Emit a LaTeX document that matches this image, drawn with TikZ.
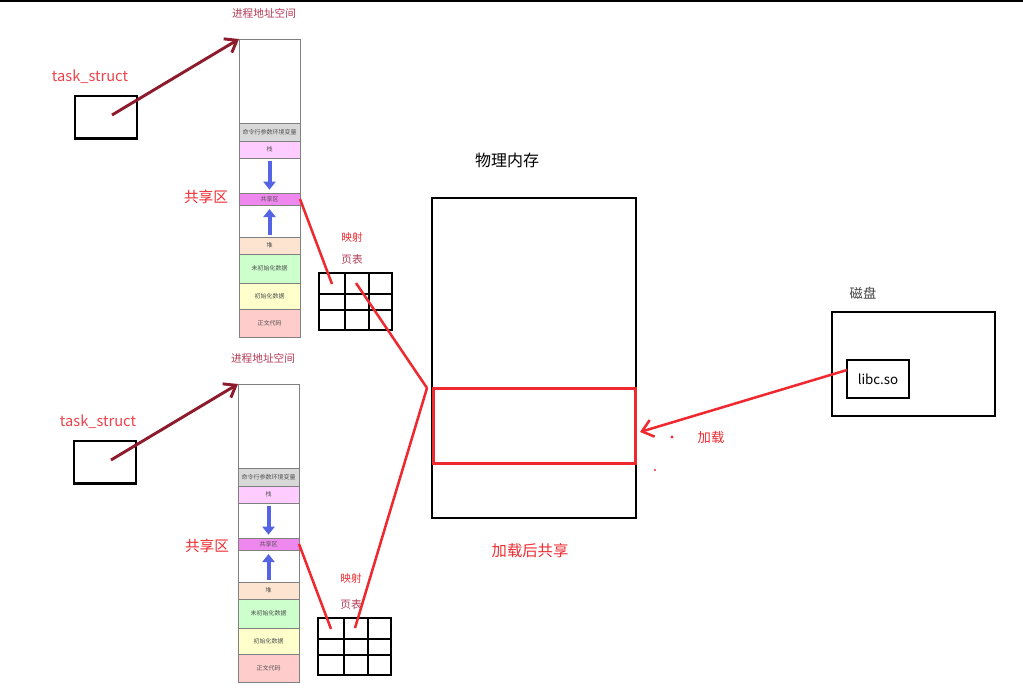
\documentclass[tikz,border=0pt]{standalone}
\usepackage{fontspec}
\setmainfont{Noto Sans CJK SC}
\usetikzlibrary{arrows.meta}
\definecolor{cgray}{HTML}{D8D8D8}
\definecolor{cpink}{HTML}{FFCCFF}
\definecolor{cmag}{HTML}{EE88EE}
\definecolor{cpeach}{HTML}{FCE4D0}
\definecolor{cgreen}{HTML}{CCFFCC}
\definecolor{cyellow}{HTML}{FFFFCC}
\definecolor{cred}{HTML}{FFCCCC}
\definecolor{segtext}{HTML}{505050}
\definecolor{segline}{HTML}{808080}
\definecolor{darkred}{HTML}{8E1B2B}
\definecolor{titlered}{HTML}{B23A55}
\definecolor{lred}{HTML}{EE2A30}
\definecolor{txtred}{HTML}{F0414B}
\definecolor{bluearrow}{HTML}{5464E4}
\newcommand\segbox[5]{\node[seg, fill=#1, minimum height=#2*0.75pt] (#3) at (239,#4) {#5};}
\begin{document}
\begin{tikzpicture}[x=0.75pt,y=-0.75pt,
  seg/.style={draw=segline, line width=0.6pt, minimum width=45.75pt, anchor=north west,
    inner sep=0pt, outer sep=0pt, font=\fontsize{4.5}{5}\selectfont, text=segtext},
  blk/.style={draw=black, line width=2.2pt},
  boxnode/.style={blk, anchor=north west, inner sep=0pt, outer sep=0pt},
  redln/.style={draw=lred, line width=1.9pt},
  darkarrow/.style={draw=darkred, line width=2.2pt, -{Straight Barb[length=8pt,width=12pt,line width=2.2pt]}},
  loadarrow/.style={draw=lred, line width=1.9pt, -{Straight Barb[length=8pt,width=13pt,line width=1.9pt]}},
  bluearr/.style={draw=bluearrow, line width=3pt, -{Triangle[length=6pt,width=9pt]}},
  lbl/.style={inner sep=0pt},
]
\useasboundingbox (0,0) rectangle (1023,690);
\draw[black, line width=1.5pt] (0,1) -- (1023,1);

\coordinate (hub) at (427,388);

\foreach \i/\dx/\dy/\tx/\ty/\gx/\gy/\my in {0/0/0/90/77/206/197/237, 1/-1/345/98/422/207/546/233} {
  \node[lbl, text=txtred, font=\fontsize{11}{13}\selectfont] (tsl\i) at (\tx,\ty) {task\_struct};
  \node[lbl, text=lred, font=\fontsize{11}{13}\selectfont] (shl\i) at (\gx,\gy) {共享区};
  \begin{scope}[shift={(\dx,\dy)}]
    \node[lbl, text=titlered, font=\fontsize{8}{9}\selectfont] (ttl\i) at (264,13) {进程地址空间};
    \segbox{white}{84}{top\i}{39}{}
    \segbox{cgray}{18}{cmd\i}{123}{命令行参数环境变量}
    \segbox{cpink}{17}{stk\i}{141}{栈}
    \segbox{white}{35}{gapa\i}{158}{}
    \segbox{cmag}{12}{shr\i}{193}{共享区}
    \segbox{white}{32}{gapb\i}{205}{}
    \segbox{cpeach}{17}{heap\i}{237}{堆}
    \segbox{cgreen}{29}{bss\i}{254}{未初始化数据}
    \segbox{cyellow}{26}{data\i}{283}{初始化数据}
    \segbox{cred}{28}{code\i}{309}{正文代码}
    \draw[bluearr] ([yshift=-2.5pt]gapa\i.north) -- ([yshift=2.5pt]gapa\i.south);
    \draw[bluearr] ([yshift=1.5pt]gapb\i.south) -- ([yshift=-3pt]gapb\i.north);
    % task_struct box
    \node[boxnode, minimum width=46.5pt, minimum height=32pt] (tsb\i) at (75,96) {};
    \coordinate (ta\i) at (112,115);
    \draw[darkarrow] (ta\i) -- (top\i.north west);
    % page table
    \node[lbl, text=lred, font=\fontsize{8}{9}\selectfont] (ys\i) at (352,\my) {映射};
    \node[lbl, text=titlered, font=\fontsize{8}{9}\selectfont] (yb\i) at (352,259) {页表};
    \node[boxnode, minimum width=54.75pt, minimum height=42.75pt] (pt\i) at (319,273) {};
    \draw[blk] (345,273) -- (345,330) (369,273) -- (369,330)
               (319,294) -- (392,294) (319,310) -- (392,310);
    \coordinate (pa\i) at (332,284);
    \coordinate (pb\i) at (356,283);
  \end{scope}
  \draw[redln] (shr\i.east) -- (pa\i);
  \draw[redln] (hub) -- (pb\i);
}

% physical memory
\node[lbl, font=\fontsize{12}{14}\selectfont] (pml) at (507,160) {物理内存};
\node[boxnode, minimum width=153pt, minimum height=240pt] (pm) at (432,198) {};
\node[draw=lred, line width=1.9pt, anchor=north west, inner sep=0pt, minimum width=151.5pt, minimum height=56.25pt] (shared) at (432,387) {};
\node[lbl, text=lred, font=\fontsize{11.5}{13}\selectfont] (after) at (530,551) {加载后共享};

% disk
\node[lbl, text=black!75, font=\fontsize{10}{12}\selectfont] (dkl) at (863,293) {磁盘};
\node[boxnode, minimum width=122.25pt, minimum height=78pt] (disk) at (832,312) {};
\node[boxnode, minimum width=46.5pt, minimum height=28.5pt, font=\fontsize{10}{12}\selectfont] (libc) at (847,360) {libc.so};
\coordinate (lstart) at (847,370);
\coordinate (lend) at (640,432);
\draw[loadarrow] (lstart) -- (lend);
\node[lbl, text=lred, font=\fontsize{10}{12}\selectfont] (jz) at (711,437) {加载};
\fill[lred] (672,437) circle (1.2pt);
\fill[lred] (655,470) circle (0.9pt);
\end{tikzpicture}
\end{document}
